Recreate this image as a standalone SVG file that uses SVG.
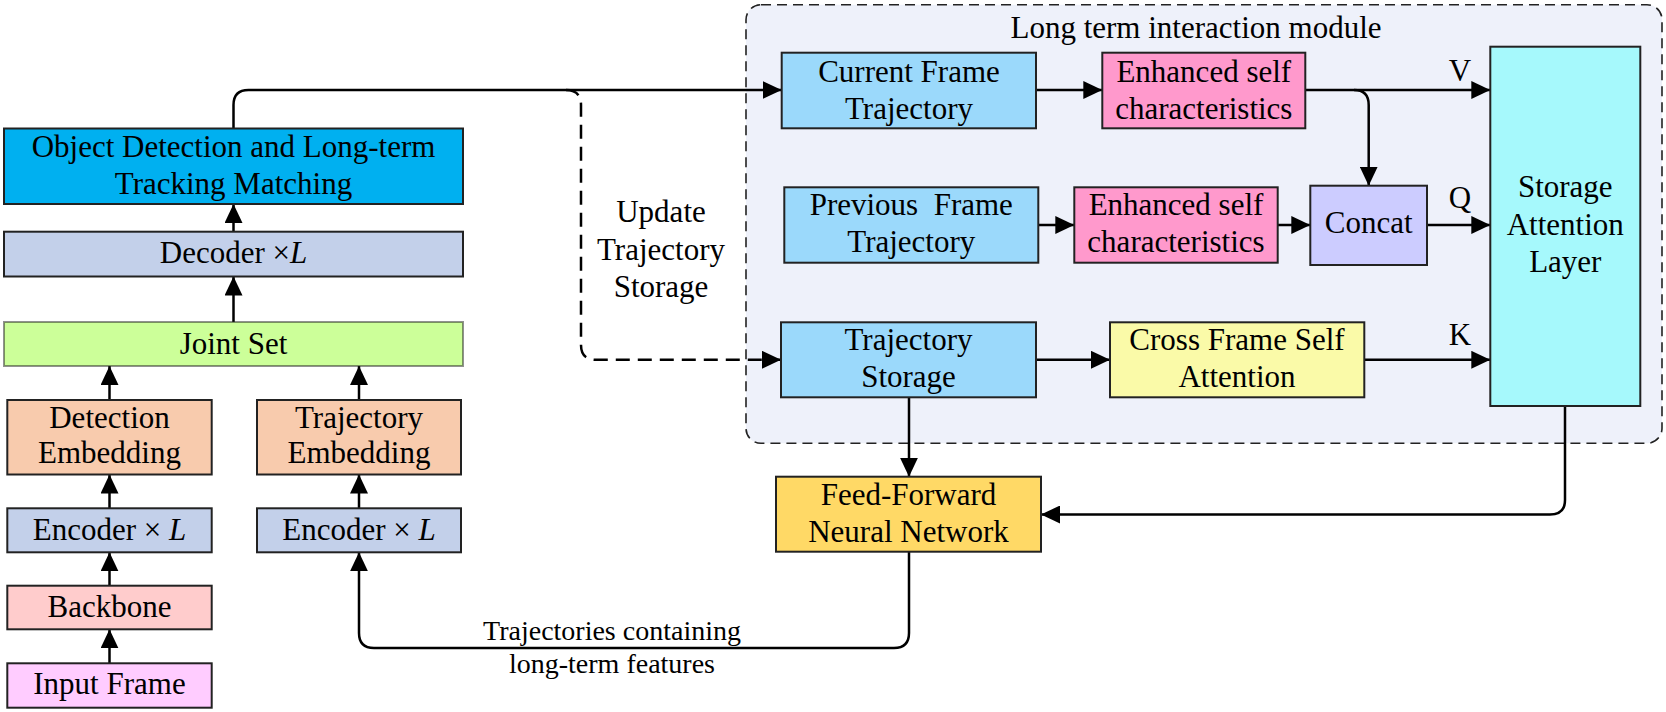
<svg xmlns="http://www.w3.org/2000/svg" width="1666" height="712" viewBox="0 0 1666 712" font-family="'Liberation Serif', 'Times New Roman', serif">
<defs>
<marker id="ah" markerUnits="userSpaceOnUse" markerWidth="20" markerHeight="18" refX="19" refY="9" orient="auto">
<path d="M0,0 L19,9 L0,18 z" fill="#000"/>
</marker>
<style>
.box{stroke:#222;stroke-width:2}
.t{font-family:"Liberation Serif","Times New Roman",serif;font-size:31px;fill:#000;text-anchor:middle}
.s{font-size:28px}
.c{fill:none;stroke:#000;stroke-width:2.5}
.a{marker-end:url(#ah)}
.d{stroke-dasharray:14 8}
</style>
</defs>
<rect width="1666" height="712" fill="#fff"/>

<g id="module">
<rect x="746" y="4.7" width="916" height="438.6" rx="15" fill="#EEF1FA" stroke="#222" stroke-width="1.6" stroke-dasharray="10 6"/>
<text class="t" x="1196" y="38">Long term interaction module</text>
</g>

<g id="connectors">
<path class="c a" d="M109.5 663.3 V629.3"/>
<path class="c a" d="M109.5 585.7 V552.3"/>
<path class="c a" d="M109.5 508.3 V474.5"/>
<path class="c a" d="M109.5 400 V366"/>
<path class="c a" d="M359 508.3 V474.5"/>
<path class="c a" d="M359 400 V366"/>
<path class="c a" d="M233.5 322 V276.5"/>
<path class="c a" d="M233.5 231.7 V204"/>
<path class="c a" d="M233.5 128.5 V105 Q233.5 90 248.5 90 H781.7"/>
<path class="c a d" d="M566 90 Q581 90 581 105 V345 Q581 359.8 596 359.8 H781"/>
<path class="c a" d="M1036 90 H1102.3"/>
<path class="c a" d="M1305.3 90 H1490.3"/>
<path class="c a" d="M1354 90 Q1368.7 90 1368.7 105 V185.7"/>
<path class="c a" d="M1038.3 225 H1074.3"/>
<path class="c a" d="M1277.7 225 H1310.3"/>
<path class="c a" d="M1427 225 H1490.3"/>
<path class="c a" d="M1036 359.8 H1110"/>
<path class="c a" d="M1364.3 359.8 H1490.3"/>
<path class="c a" d="M909 397.3 V476.7"/>
<path class="c a" d="M1565 406 V500 Q1565 514.5 1550 514.5 H1041"/>
<path class="c a" d="M909 551.7 V633 Q909 648 894 648 H374 Q359 648 359 633 V552.3"/>
<text class="t" x="1460" y="81">V</text>
<text class="t" x="1460" y="208">Q</text>
<text class="t" x="1460" y="345">K</text>
<text class="t" x="661" y="222">Update</text>
<text class="t" x="661" y="259.5">Trajectory</text>
<text class="t" x="661" y="297">Storage</text>
<text class="t s" x="612" y="640">Trajectories containing</text>
<text class="t s" x="612" y="673">long-term features</text>
</g>

<g id="object-detection">
<rect class="box" x="4" y="128.5" width="459" height="75.5" fill="#00B0F0"/>
<text class="t" x="233.5" y="157">Object Detection and Long-term</text>
<text class="t" x="233.5" y="194">Tracking Matching</text>
</g>
<g id="decoder">
<rect class="box" x="4" y="231.7" width="459" height="44.8" fill="#C3D0EA"/>
<text class="t" x="233.5" y="263">Decoder ×<tspan font-style="italic">L</tspan></text>
</g>
<g id="joint-set">
<rect class="box" x="4" y="322" width="459" height="44" fill="#CCFF99" stroke-opacity="0.5"/>
<text class="t" x="233.5" y="354">Joint Set</text>
</g>
<g id="detection-embedding">
<rect class="box" x="7.3" y="400" width="204.4" height="74.5" fill="#F8CBAD"/>
<text class="t" x="109.5" y="427.5">Detection</text>
<text class="t" x="109.5" y="463">Embedding</text>
</g>
<g id="trajectory-embedding">
<rect class="box" x="257" y="400" width="204" height="74.5" fill="#F8CBAD"/>
<text class="t" x="359" y="427.5">Trajectory</text>
<text class="t" x="359" y="463">Embedding</text>
</g>
<g id="encoder-left">
<rect class="box" x="7.3" y="508.3" width="204.4" height="44" fill="#C3D0EA"/>
<text class="t" x="109.5" y="539.5">Encoder × <tspan font-style="italic">L</tspan></text>
</g>
<g id="encoder-right">
<rect class="box" x="257" y="508.3" width="204" height="44" fill="#C3D0EA"/>
<text class="t" x="359" y="539.5">Encoder × <tspan font-style="italic">L</tspan></text>
</g>
<g id="backbone">
<rect class="box" x="7.3" y="585.7" width="204.4" height="43.6" fill="#FFCCCC"/>
<text class="t" x="109.5" y="617">Backbone</text>
</g>
<g id="input-frame">
<rect class="box" x="7.3" y="663.3" width="204.4" height="44.4" fill="#FFCCFF"/>
<text class="t" x="109.5" y="694">Input Frame</text>
</g>

<g id="current-frame">
<rect class="box" x="781.7" y="52.7" width="254.3" height="75.6" fill="#9BD9FB"/>
<text class="t" x="909" y="82">Current Frame</text>
<text class="t" x="909" y="118.5">Trajectory</text>
</g>
<g id="enhanced-top">
<rect class="box" x="1102.3" y="52.7" width="203" height="75.6" fill="#FF99CC"/>
<text class="t" x="1203.8" y="82">Enhanced self</text>
<text class="t" x="1203.8" y="118.5">characteristics</text>
</g>
<g id="previous-frame">
<rect class="box" x="784.3" y="187.3" width="254" height="75.4" fill="#9BD9FB"/>
<text class="t" x="911.3" y="215" xml:space="preserve">Previous  Frame</text>
<text class="t" x="911.3" y="251.5">Trajectory</text>
</g>
<g id="enhanced-mid">
<rect class="box" x="1074.3" y="187.3" width="203.4" height="75.4" fill="#FF99CC"/>
<text class="t" x="1176" y="215">Enhanced self</text>
<text class="t" x="1176" y="251.5">characteristics</text>
</g>
<g id="concat">
<rect class="box" x="1310.3" y="185.7" width="116.7" height="79.3" fill="#CCCCFF"/>
<text class="t" x="1368.7" y="233">Concat</text>
</g>
<g id="storage-attention">
<rect class="box" x="1490.3" y="46.7" width="150" height="359.3" fill="#A6F9FC"/>
<text class="t" x="1565.3" y="196.7">Storage</text>
<text class="t" x="1565.3" y="235">Attention</text>
<text class="t" x="1565.3" y="271.7">Layer</text>
</g>
<g id="trajectory-storage">
<rect class="box" x="781" y="322.3" width="255" height="75" fill="#9BD9FB"/>
<text class="t" x="908.5" y="350">Trajectory</text>
<text class="t" x="908.5" y="386.7">Storage</text>
</g>
<g id="cross-frame">
<rect class="box" x="1110" y="322.3" width="254.3" height="75" fill="#FAFAA8"/>
<text class="t" x="1237" y="350">Cross Frame Self</text>
<text class="t" x="1237" y="386.7">Attention</text>
</g>
<g id="feed-forward">
<rect class="box" x="776" y="476.7" width="265" height="75" fill="#FFD966"/>
<text class="t" x="908.5" y="505">Feed-Forward</text>
<text class="t" x="908.5" y="541.7">Neural Network</text>
</g>
</svg>
